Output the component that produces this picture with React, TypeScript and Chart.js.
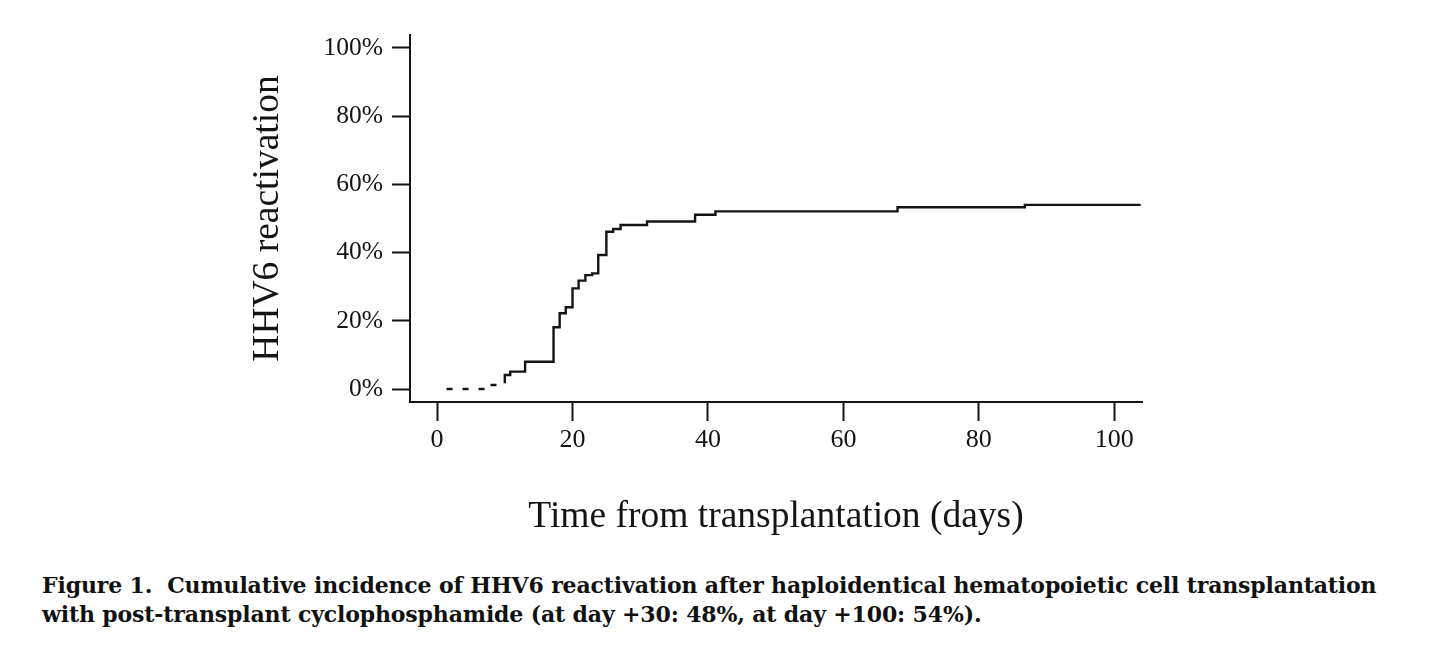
import React, { useEffect, useRef } from "react";
import { Chart, registerables } from "chart.js";

Chart.register(...registerables);

// days / cumulative incidence (%)
const dashedDays = [1.4, 7.5, 8.8];
const dashedValues = [0, 1.2, 1.2];

const solidDays = [
  10.0, 10.0, 10.8, 13.0, 17.2, 18.1, 19.0, 20.0, 20.9, 21.9, 22.9, 23.8,
  25.0, 26.0, 27.1, 31.0, 38.1, 41.1, 68.0, 86.8, 103.9,
];
const solidValues = [
  1.7, 4.1, 5.1, 8.0, 18.1, 22.2, 24.0, 29.5, 31.8, 33.4, 33.9, 39.3, 46.1,
  46.9, 48.1, 49.1, 51.1, 52.1, 53.3, 54.0, 54.0,
];

const xTicks = [0, 20, 40, 60, 80, 100];
const yTicks = [0, 20, 40, 60, 80, 100];

const ink = "#141414";
const serif = "'Liberation Serif', 'Times New Roman', serif";

const App: React.FC = () => {
  const canvasRef = useRef<HTMLCanvasElement | null>(null);
  const chartRef = useRef<Chart | null>(null);

  useEffect(() => {
    if (!canvasRef.current) return;
    const ctx = canvasRef.current.getContext("2d");
    if (!ctx) return;

    chartRef.current = new Chart(ctx, {
      type: "line",
      data: {
        datasets: [
          {
            data: dashedDays.map((d, i) => ({ x: d, y: dashedValues[i] })),
            borderColor: ink,
            borderWidth: 2.4,
            borderDash: [6, 10],
            stepped: true,
            pointRadius: 0,
            fill: false,
          },
          {
            data: solidDays.map((d, i) => ({ x: d, y: solidValues[i] })),
            borderColor: ink,
            borderWidth: 2.4,
            stepped: true,
            pointRadius: 0,
            fill: false,
          },
        ],
      },
      options: {
        responsive: true,
        maintainAspectRatio: false,
        animation: false,
        layout: { padding: { top: 35, right: 288, left: 0, bottom: 0 } },
        plugins: {
          legend: { display: false },
          tooltip: { enabled: false },
        },
        scales: {
          x: {
            type: "linear",
            min: -4,
            max: 104.1,
            afterBuildTicks: (scale: any) => {
              scale.ticks = xTicks.map((v) => ({ value: v }));
            },
            afterFit: (scale: any) => {
              scale.height = 158;
            },
            grid: {
              drawOnChartArea: false,
              drawTicks: true,
              tickLength: 19,
              tickWidth: 2,
              tickColor: ink,
            },
            border: { display: true, width: 2, color: ink },
            ticks: {
              padding: 4,
              color: ink,
              maxRotation: 0,
              font: { family: serif, size: 26 },
            },
            title: {
              display: true,
              text: "Time from transplantation (days)",
              color: ink,
              font: { family: serif, size: 37.5 },
              padding: { top: 0, bottom: 20 },
            },
          },
          y: {
            type: "linear",
            min: -3.8,
            max: 103.8,
            afterBuildTicks: (scale: any) => {
              scale.ticks = yTicks.map((v) => ({ value: v }));
            },
            afterFit: (scale: any) => {
              scale.width = 410;
            },
            grid: {
              drawOnChartArea: false,
              drawTicks: true,
              tickLength: 18,
              tickWidth: 2,
              tickColor: ink,
            },
            border: { display: true, width: 2, color: ink },
            ticks: {
              padding: 9,
              color: ink,
              font: { family: serif, size: 25.5 },
              callback: (v: any) => `${v}%`,
            },
            title: {
              display: true,
              text: "HHV6 reactivation",
              color: ink,
              font: { family: serif, size: 37.5 },
              padding: { top: 246, bottom: 0 },
            },
          },
        },
      } as any,
    });

    return () => {
      if (chartRef.current) {
        chartRef.current.destroy();
        chartRef.current = null;
      }
    };
  }, []);

  return (
    <div
      style={{
        position: "absolute",
        left: 0,
        top: 0,
        width: 1430,
        height: 672,
        background: "#fff",
      }}
    >
      <div style={{ position: "absolute", left: 0, top: 0, width: 1430, height: 560 }}>
        <canvas ref={canvasRef}></canvas>
      </div>
      <div
        style={{
          position: "absolute",
          left: 42,
          top: 571,
          fontFamily: "'DejaVu Serif', serif",
          fontWeight: "bold",
          fontSize: 22,
          letterSpacing: "-0.15px",
          lineHeight: "28.5px",
          color: "#111",
          whiteSpace: "nowrap",
        }}
      >
        <div>
          Figure 1.&nbsp; Cumulative incidence of HHV6 reactivation after haploidentical hematopoietic cell transplantation
        </div>
        <div>with post-transplant cyclophosphamide (at day +30: 48%, at day +100: 54%).</div>
      </div>
    </div>
  );
};

export default App;
